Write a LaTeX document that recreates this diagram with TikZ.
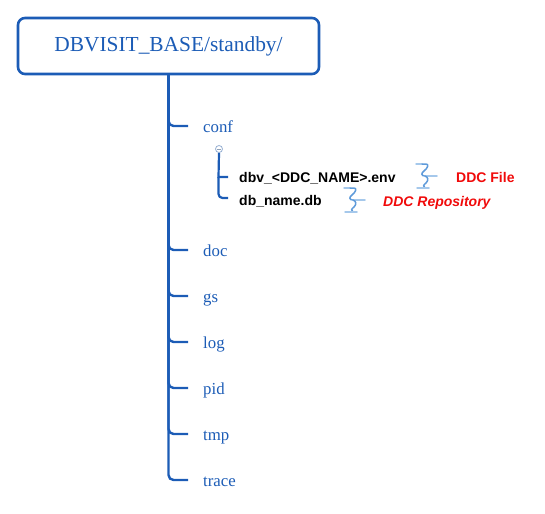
\documentclass[tikz,border=0pt]{standalone}
\usepackage{fontspec}
\setmainfont{Liberation Serif}
\newfontfamily\sansf{Liberation Sans}
\definecolor{treeblue}{RGB}{28,92,182}
\definecolor{squig}{RGB}{95,155,218}
\definecolor{squiglight}{RGB}{165,200,235}
\definecolor{ddcred}{RGB}{240,10,10}
\definecolor{togglec}{RGB}{150,175,210}
\begin{document}
\begin{tikzpicture}[x=1pt,y=-1pt,
  rootbox/.style={draw=treeblue, line width=2.6pt, rounded corners=7pt, text=treeblue,
    minimum width=301pt, minimum height=56pt, inner sep=0pt,
    font=\fontsize{21.4}{24}\selectfont},
  child/.style={anchor=base west, inner sep=0pt, text=treeblue, font=\fontsize{16.8}{18}\selectfont},
  filet/.style={anchor=base west, inner sep=0pt, text=black, font=\sansf\bfseries\fontsize{14}{16}\selectfont},
  ddclab/.style={anchor=base west, inner sep=0pt, text=ddcred, font=\sansf\bfseries\fontsize{14}{16}\selectfont},
  trunk/.style={draw=treeblue, line width=2.4pt, rounded corners=5pt},
  subtrunk/.style={draw=treeblue, line width=2.2pt},
  squigl/.style={draw=squig, line width=1.5pt, line cap=round, line join=round},
  squiggle/.pic={
    \draw[squigl, draw=squiglight] (-8,-12) -- (-2,-12);
    \draw[squigl] (-2,-12) -- (2,-12) .. controls (5,-12) and (4,-8) .. (0,-5)
      .. controls (-3,-3) and (-3,0) .. (1,0);
    \draw[squigl, draw=squiglight] (1,0) -- (13,0);
    \draw[squigl] (1,0) .. controls (4,1) and (5,4) .. (2,7)
      .. controls (-1,9) and (-1,11) .. (1,12);
    \draw[squigl, draw=squiglight] (-7,12) -- (5,12);
  }
]
\useasboundingbox (0,0) rectangle (545,513);

\node[rootbox] (root) at (168.5,46) {DBVISIT\_BASE/standby/};

% main branches
\foreach \nm/\yy in {conf/126, doc/250, gs/296, log/342, pid/388, tmp/434, trace/480} {
  \coordinate (b\nm) at (188,\yy);
  \node[child] (\nm) at (203,\yy+6) {\nm};
}
\foreach \nm in {trace, tmp, pid, log, gs, doc, conf}
  \draw[trunk] (root.south) |- (b\nm);

% conf subtree
\node[circle, draw=togglec, line width=0.8pt, minimum size=7pt, inner sep=0pt] (toggle) at (219,149) {};
\draw[togglec!70!gray, line width=0.7pt] ([xshift=-2pt]toggle.center) -- ([xshift=2pt]toggle.center);
\coordinate (bdbv) at (228,177);
\coordinate (bdbn) at (228,198);
\coordinate (jdbv) at (218.5,177);
\draw[subtrunk] (toggle.south) -- (jdbv) -- (bdbv);
\draw[subtrunk, rounded corners=4pt] (jdbv) |- (bdbn);

\node[filet] (dbv) at (239,182) {dbv\_<DDC\_NAME>.env};
\node[filet] (dbn) at (239,205) {db\_name.db};

\node[ddclab] (ddcfile) at (456,182) {DDC File};
\node[ddclab, font=\sansf\bfseries\itshape\fontsize{14}{16}\selectfont] (ddcrep) at (383,206) {DDC Repository};

% squiggles
\pic at (424,176) {squiggle};
\pic at (352,200) {squiggle};
\end{tikzpicture}
\end{document}
